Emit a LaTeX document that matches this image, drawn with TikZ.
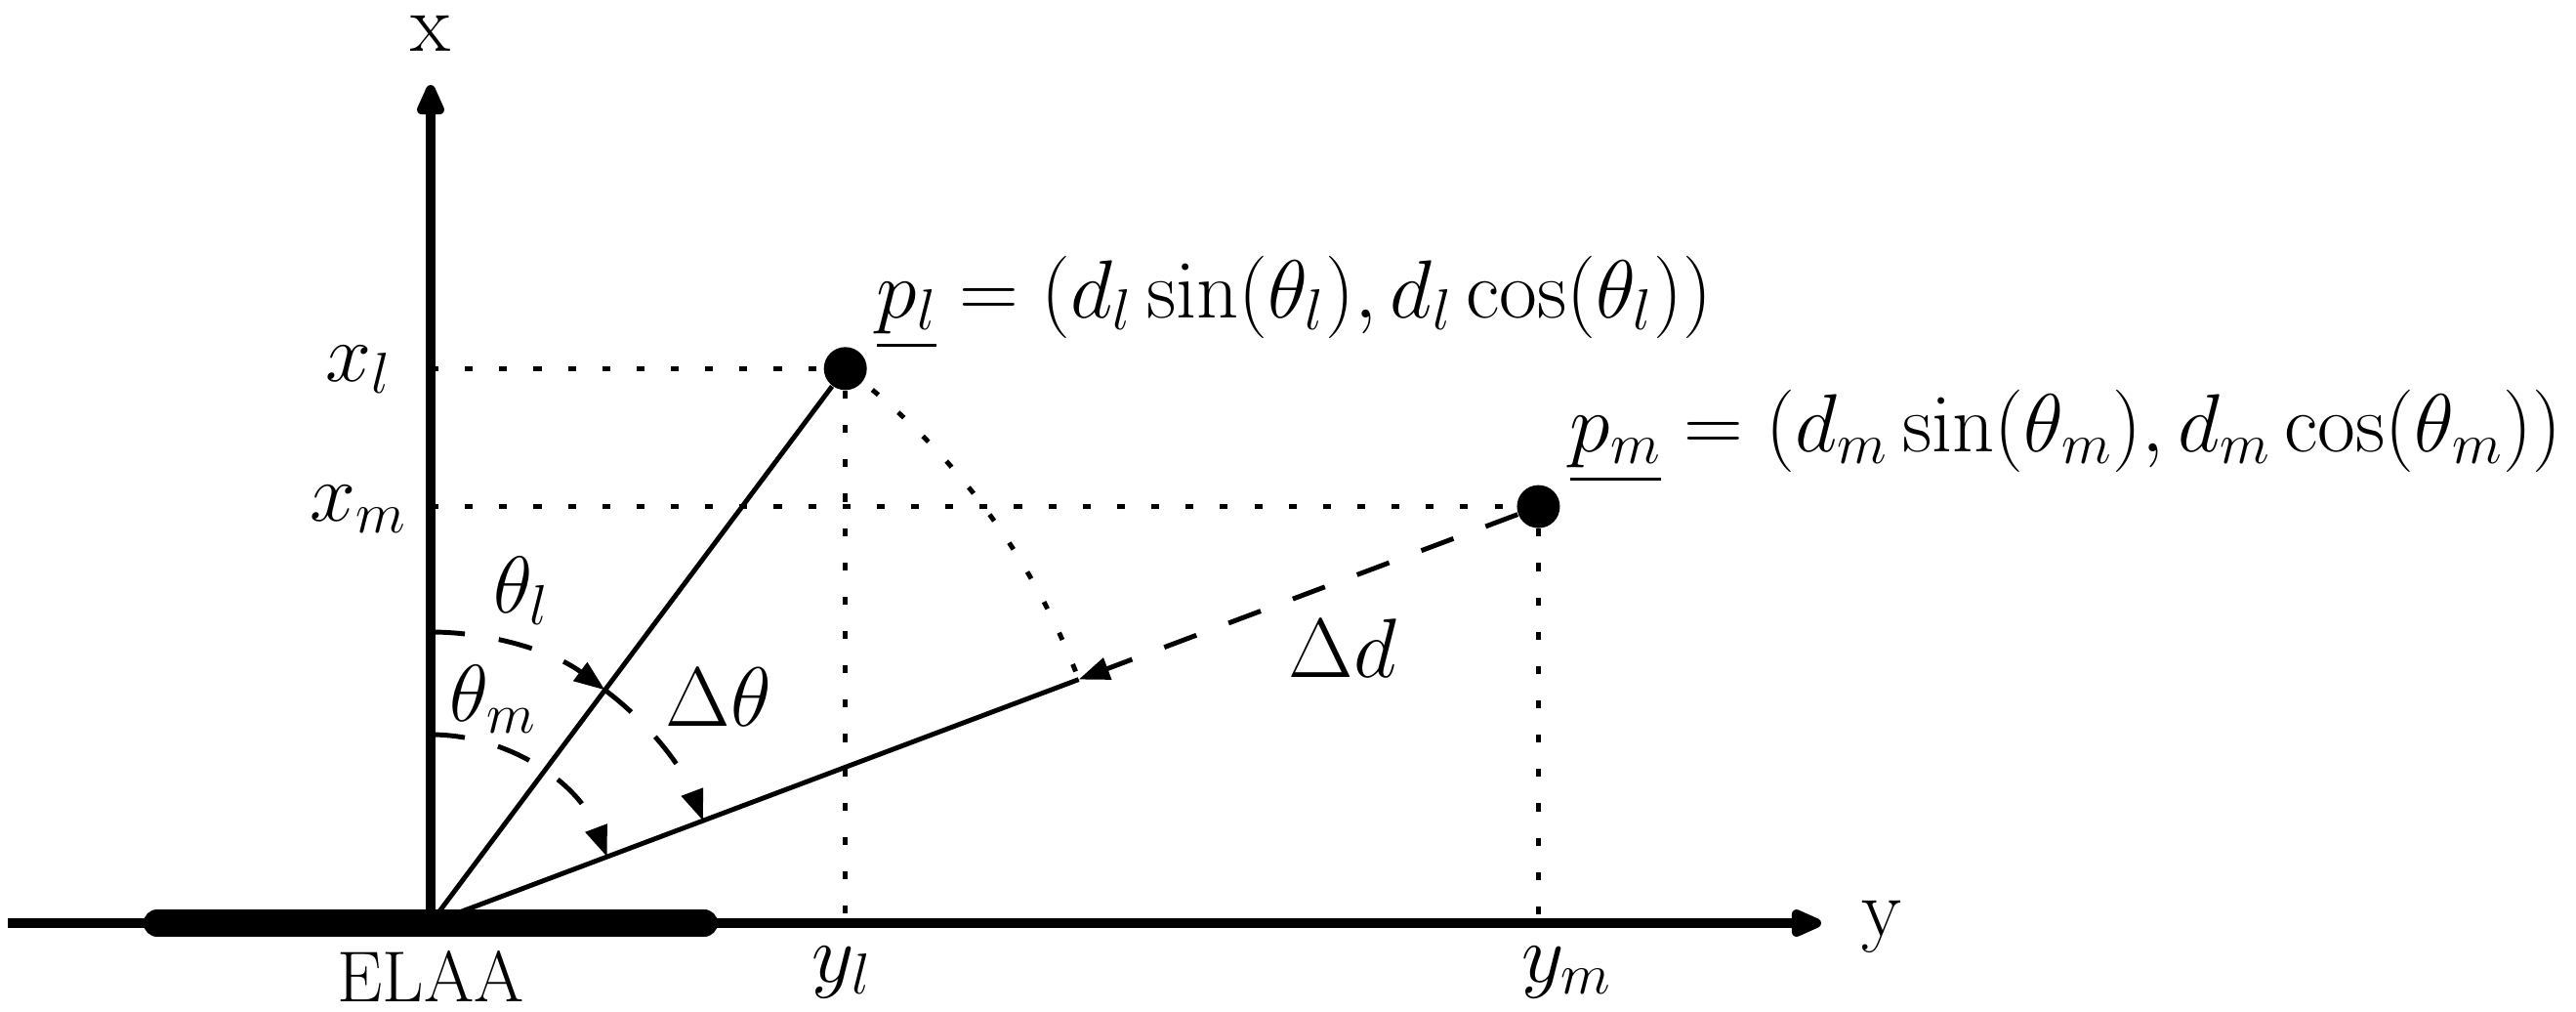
\documentclass[tikz,border=0pt]{standalone}
\usepackage{fix-cm}
\usepackage{amsmath,amssymb}
\usepackage{tikz}
\usetikzlibrary{arrows.meta,calc,positioning}

\begin{document}
\begin{tikzpicture}[
    axis/.style={line width=2.85pt, -{Triangle[length=11pt,width=8.5pt,round]}},
    ray/.style={line width=1.4pt},
    guide/.style={line width=1.4pt, dash pattern=on 2.3pt off 7.7pt},
    dasharrow/.style={line width=1.4pt, dash pattern=on 10pt off 10pt, -{Triangle[length=9pt,width=6.5pt]}},
    pointdot/.style={circle, fill, inner sep=0pt, minimum size=0.44cm},
    biglabel/.style={inner sep=0pt, font=\fontsize{24}{28}\selectfont},
    deltalabel/.style={inner sep=0pt, font=\fontsize{24.5}{28}\selectfont},
    anglelabel/.style={inner sep=0pt, font=\fontsize{23.5}{27}\selectfont},
    arraylabel/.style={inner sep=0pt, font=\fontsize{21}{25}\selectfont},
  ]
        \useasboundingbox (-4.41,-0.90) rectangle (21.97,9.45);

        % axes
        \coordinate (O) at (0,0);
        \coordinate (yleft) at (-4.33,0);
        \coordinate (ytip) at (14.24,0);
        \coordinate (xtip) at (0,8.58);
        \draw[axis] (yleft) -- (ytip);
        \draw[axis] (O) -- (xtip);
        \node[biglabel] (xlab) at (0,9.11) {x};
        \node[biglabel, anchor=base] (ylab) at (14.86,-0.13) {y};

        % ELAA
        \coordinate (ela) at (-2.80,0);
        \coordinate (elb) at (2.80,0);
        \draw[line width=8pt, line cap=round] (ela) -- (elb);
        \node[arraylabel, anchor=base] (elaa) at (0,-0.80) {ELAA};

        % p_l, p_m
        \node[pointdot] (pl) at (53.2:7.09) {};
        \node[pointdot] (pm) at (20.6:12.12) {};
        \coordinate (q) at (20.6:7.09);

        % projections
        \draw[guide] (O |- pl) -- (pl);
        \draw[guide] (O |- pm) -- (pm);
        \draw[guide] (pl) -- (pl |- O);
        \draw[guide] (pm) -- (pm |- O);
        \node[biglabel, anchor=base] (xl) at (-0.74,5.55) {$x_l$};
        \node[biglabel, anchor=base] (xm) at (-0.74,4.12) {$x_m$};
        \node[biglabel, anchor=base] (yl) at (4.21,-0.60) {$y_l$};
        \node[biglabel, anchor=base] (ym) at (11.64,-0.60) {$y_m$};

        % rays
        \draw[ray] (O) -- (pl);
        \draw[ray] (O) -- (q);

        % d_l arc and Delta d
        \draw[guide] (pl.center) arc[start angle=53.2, end angle=20.6, radius=7.09];
        \draw[dasharrow] (pm) -- (q);
        \node[deltalabel, anchor=base] (dd) at (9.34,2.52) {$\Delta d$};

        % angles
        \draw[dasharrow] (90:2.98) arc[start angle=90, end angle=53.2, radius=2.98];
        \draw[dasharrow] (53.2:2.98) arc[start angle=53.2, end angle=20.6, radius=2.98];
        \draw[dasharrow] (90:1.93) arc[start angle=90, end angle=20.6, radius=1.93];
        \node[anglelabel, anchor=base] (thl) at (0.93,3.18) {$\theta_l$};
        \node[anglelabel, anchor=base] (thm) at (0.64,2.07) {$\theta_m$};
        \node[deltalabel, anchor=base] (dth) at (2.95,2.02) {$\Delta\theta$};

        % point labels
        \node[biglabel, anchor=base west] (pllab) at (4.56,6.20)
            {$\underline{p_l} = (d_l\sin(\theta_l), d_l\cos(\theta_l))$};
        \node[biglabel, anchor=base west] (pmlab) at (11.66,4.83)
            {$\underline{p_m} = (d_m\sin(\theta_m), d_m\cos(\theta_m))$};

      \end{tikzpicture}
\end{document}
